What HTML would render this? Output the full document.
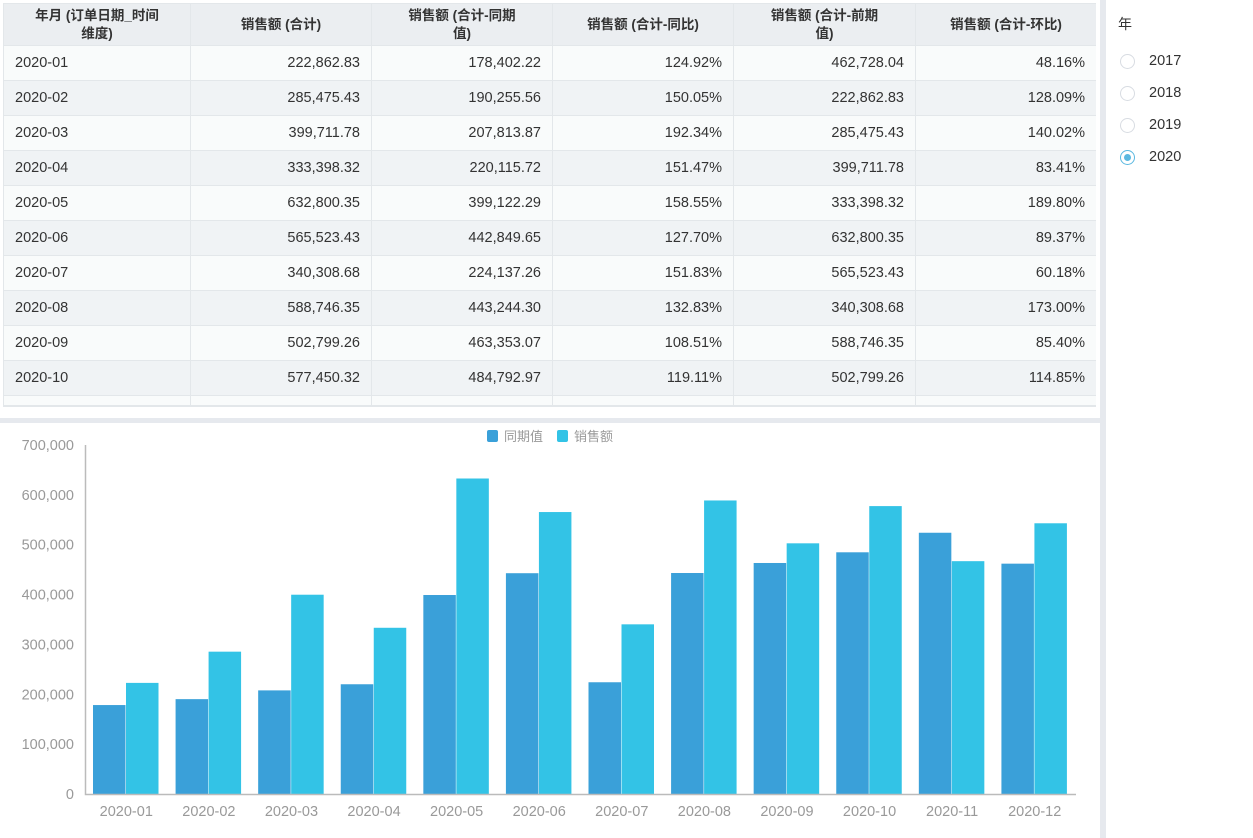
<!DOCTYPE html>
<html><head><meta charset="utf-8"><style>
body{margin:0;width:1253px;height:838px;background:#fff;font-family:"Liberation Sans","Noto Sans CJK SC",sans-serif;position:relative;overflow:hidden}
#tbl{position:absolute;left:3px;top:3px;width:1093px;height:402px;overflow:hidden;border-bottom:2px solid #e3e7ea}
table{border-collapse:collapse;table-layout:fixed;width:1093px}
td,th{border:1px solid #e3e7ea;font-size:14.5px;color:#333;padding:0 11px;overflow:hidden;white-space:nowrap}
th{height:41px;background:#ebeef1;font-weight:bold;font-size:13.5px;line-height:18px;text-align:center}
td{height:34px;text-align:right}
td:first-child{text-align:left}
tr:nth-child(odd) td{background:#f9fbfb}
tr:nth-child(even) td{background:#f0f3f5}
#vsep{position:absolute;left:1100px;top:0;width:6px;height:838px;background:#e6e9ee}
#hsep{position:absolute;left:0;top:418px;width:1100px;height:5px;background:#e6e9ee}
#panel{position:absolute;left:1106px;top:0}
.ttl{position:absolute;left:12px;top:14px;font-size:14px;color:#333;white-space:nowrap}
.opt{position:absolute;left:14px;display:flex;align-items:center;font-size:14.5px;color:#333}
.rd{width:15px;height:15px;border:1px solid #d8dce2;border-radius:50%;box-sizing:border-box;margin-right:14px;position:relative}
.rd.on{border-color:#5bb8e0}
.rd.on:after{content:"";position:absolute;left:3px;top:3px;width:7px;height:7px;border-radius:50%;background:#5bb8e0}
</style></head><body>
<div id="tbl"><table>
<colgroup><col style="width:187px"><col style="width:181px"><col style="width:181px"><col style="width:181px"><col style="width:182px"><col style="width:181px"></colgroup>
<thead><tr><th>年月 (订单日期_时间<br>维度)</th><th>销售额 (合计)</th><th>销售额 (合计-同期<br>值)</th><th>销售额 (合计-同比)</th><th>销售额 (合计-前期<br>值)</th><th>销售额 (合计-环比)</th></tr></thead>
<tbody id="tb"></tbody></table></div>
<div id="hsep"></div>
<div id="vsep"></div>
<div id="panel">
<div class="ttl">年</div>
<div class="opt" style="top:53px"><span class="rd"></span>2017</div>
<div class="opt" style="top:85px"><span class="rd"></span>2018</div>
<div class="opt" style="top:117px"><span class="rd"></span>2019</div>
<div class="opt" style="top:149px"><span class="rd on"></span>2020</div>
</div>
<svg id="ch" width="1100" height="415" style="position:absolute;left:0;top:423px"></svg>
<script>
const rows=[["2020-01","222,862.83","178,402.22","124.92%","462,728.04","48.16%"],["2020-02","285,475.43","190,255.56","150.05%","222,862.83","128.09%"],["2020-03","399,711.78","207,813.87","192.34%","285,475.43","140.02%"],["2020-04","333,398.32","220,115.72","151.47%","399,711.78","83.41%"],["2020-05","632,800.35","399,122.29","158.55%","333,398.32","189.80%"],["2020-06","565,523.43","442,849.65","127.70%","632,800.35","89.37%"],["2020-07","340,308.68","224,137.26","151.83%","565,523.43","60.18%"],["2020-08","588,746.35","443,244.30","132.83%","340,308.68","173.00%"],["2020-09","502,799.26","463,353.07","108.51%","588,746.35","85.40%"],["2020-10","577,450.32","484,792.97","119.11%","502,799.26","114.85%"],["","","","","",""]];
const tb=document.getElementById('tb');
rows.forEach(r=>{const tr=document.createElement('tr');


r.forEach(c=>{const td=document.createElement('td');td.textContent=c;tr.appendChild(td);});tb.appendChild(tr);});

const categories=["2020-01","2020-02","2020-03","2020-04","2020-05","2020-06","2020-07","2020-08","2020-09","2020-10","2020-11","2020-12"];
const priorValues=[178402,190256,207814,220116,399122,442850,224137,443244,463353,484793,524000,462000];
const salesValues=[222863,285475,399712,333398,632800,565523,340309,588746,502799,577450,467000,543000];
const yTicks=[0,100000,200000,300000,400000,500000,600000,700000];
const NS='http://www.w3.org/2000/svg',svg=document.getElementById('ch');
const x0=85,x1=1076,y0=371,yTop=22,ymax=700000;
const y=v=>y0-(v/ymax)*(y0-yTop);
const bw=(x1-x0)/categories.length;
const xc=i=>x0+bw*i;
function el(t,a,txt){const e=document.createElementNS(NS,t);for(const k in a)e.setAttribute(k,a[k]);if(txt!=null)e.textContent=txt;svg.appendChild(e);return e;}
yTicks.forEach(t=>{const e=el('text',{x:74,y:y(t)+5,'text-anchor':'end','font-size':14.5,fill:'#999'},t.toLocaleString('en-US'));

});
categories.forEach((c,i)=>{
const b1=el('rect',{x:xc(i)+8,y:y(priorValues[i]),width:32.5,height:y0-y(priorValues[i]),fill:'#3aa0d9'});


const b2=el('rect',{x:xc(i)+41,y:y(salesValues[i]),width:32.5,height:y0-y(salesValues[i]),fill:'#33c3e6'});


const t=el('text',{x:xc(i)+bw/2,y:y0+22,'text-anchor':'middle','font-size':14.5,fill:'#999'},c);


});
const ax=el('path',{d:`M${x0+0.5} ${yTop} V${y0+0.5} H${x1}`,stroke:'#bbb','stroke-width':1.5,fill:'none'});


const l1=el('rect',{x:487,y:7,width:11,height:12,rx:2,fill:'#3aa0d9'});


const lt1=el('text',{x:504,y:18,'font-size':13,fill:'#999'},'同期值');


const l2=el('rect',{x:557,y:7,width:11,height:12,rx:2,fill:'#33c3e6'});


const lt2=el('text',{x:574,y:18,'font-size':13,fill:'#999'},'销售额');


</script>
</body></html>
